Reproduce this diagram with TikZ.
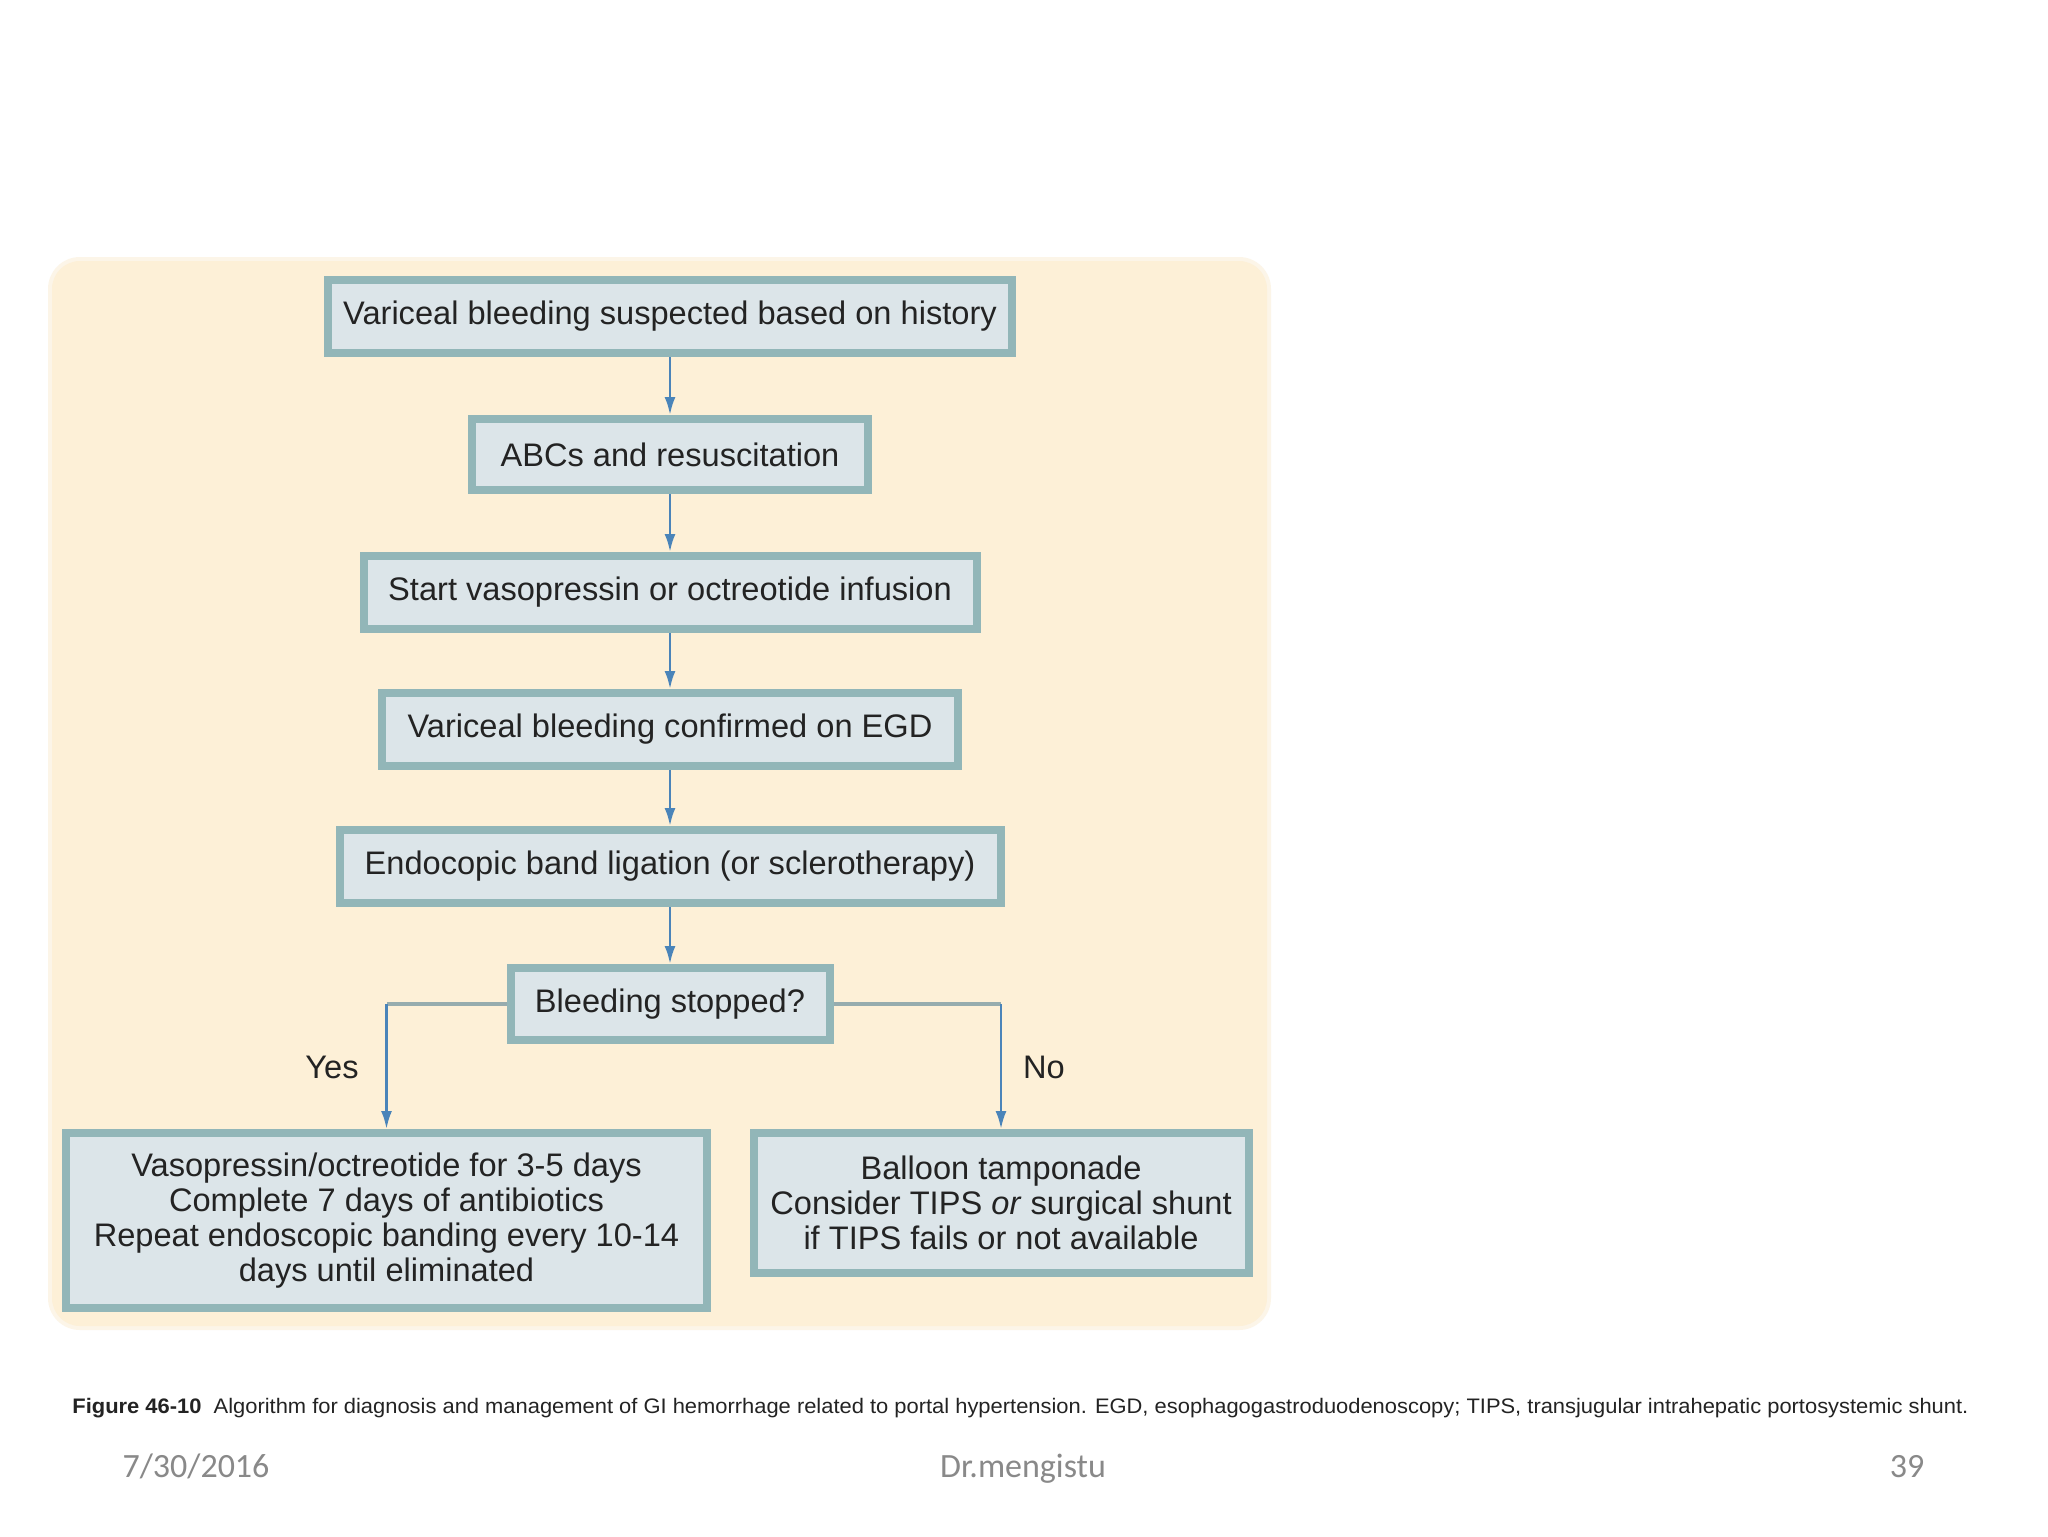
\documentclass[tikz,border=0pt]{standalone}
\usepackage{fontspec}
\usepackage{graphicx}
\setmainfont{Liberation Sans}
\newfontfamily\footfont{Carlito}
\usetikzlibrary{arrows.meta}
\definecolor{panel}{RGB}{253,240,215}
\definecolor{paneledge}{RGB}{252,245,232}
\definecolor{frame}{RGB}{146,182,184}
\definecolor{framein}{RGB}{186,208,212}
\definecolor{boxfill}{RGB}{220,229,233}
\definecolor{arr}{RGB}{74,132,185}
\definecolor{branch}{RGB}{150,172,174}
\definecolor{txt}{RGB}{35,35,35}
\definecolor{foot}{RGB}{137,137,137}
\tikzset{
  stepbox/.style={draw=frame, line width=4pt, fill=boxfill, inner sep=0pt,
    align=center, text=txt, font=\fontsize{16.3}{17.6}\selectfont,
    append after command={
      \pgfextra{\draw[framein, line width=2pt]
        ([shift={(3pt,-3pt)}]\tikzlastnode.north west) rectangle
        ([shift={(-3pt,3pt)}]\tikzlastnode.south east);}}},
  flow/.style={draw=arr, line width=1.3pt, -{Latex[length=9pt,width=5.5pt]}},
  branchline/.style={draw=branch, line width=1.6pt},
  lbl/.style={text=txt, font=\fontsize{16.3}{18}\selectfont, inner sep=0pt},
  footer/.style={text=foot, font=\footfont\fontsize{17}{19}\selectfont, inner sep=0pt, anchor=base}
}
\begin{document}
\begin{tikzpicture}[x=0.5pt,y=-0.5pt]
\useasboundingbox (0,0) rectangle (2048,1536);
\fill[white] (0,0) rectangle (2048,1536);
\fill[paneledge] [rounded corners=16pt] (48,257) rectangle (1271,1330);
\fill[panel] [rounded corners=14pt] (52,261) rectangle (1267,1326);
\node[stepbox, minimum width=342pt, minimum height=36.5pt] (b1) at (670,316.5) {Variceal bleeding suspected based on history};
\node[stepbox, minimum width=198pt, minimum height=35.5pt] (b2) at (670,454.5) {ABCs and resuscitation};
\node[stepbox, minimum width=306.5pt, minimum height=36.5pt] (b3) at (670,592.5) {Start vasopressin or octreotide infusion};
\node[stepbox, minimum width=288pt, minimum height=36.5pt] (b4) at (670,729.5) {Variceal bleeding confirmed on EGD};
\node[stepbox, minimum width=330.5pt, minimum height=36.5pt] (b5) at (670,866.5) {Endocopic band ligation (or sclerotherapy)};
\node[stepbox, minimum width=159.5pt, minimum height=36pt] (b6) at (670,1004) {Bleeding stopped?};
\node[stepbox, minimum width=320.5pt, minimum height=87.5pt] (b7) at (386.5,1220.5) {Vasopressin/octreotide for 3-5 days\\Complete 7 days of antibiotics\\Repeat endoscopic banding every 10-14\\days until eliminated};
\node[stepbox, minimum width=247.5pt, minimum height=70pt] (b8) at (1001,1203) {Balloon tamponade\\Consider TIPS \textit{or} surgical shunt\\if TIPS fails or not available};
\draw[flow] (b1) -- (b2);
\draw[flow] (b2) -- (b3);
\draw[flow] (b3) -- (b4);
\draw[flow] (b4) -- (b5);
\draw[flow] (b5) -- (b6);
\coordinate (cy) at (b7.north |- b6.west);
\coordinate (cn) at (b8.north |- b6.east);
\draw[branchline] (b6.west) -- (cy);
\draw[branchline] (b6.east) -- (cn);
\draw[flow] (cy) -- (b7.north);
\draw[flow] (cn) -- (b8.north);
\node[lbl] (yes) at (332,1067) {Yes};
\node[lbl] (no) at (1044,1067) {No};
\node[inner sep=0pt, anchor=west, text=txt] (cap) at (72,1408) {\resizebox{948pt}{\height}{\fontsize{10.5}{12}\selectfont\textbf{Figure 46-10}\ \ Algorithm for diagnosis and management of GI hemorrhage related to portal hypertension. EGD, esophagogastroduodenoscopy; TIPS, transjugular intrahepatic portosystemic shunt.}};
\node[footer] (date) at (196,1477) {7/30/2016};
\node[footer] (author) at (1023,1477) {Dr.mengistu};
\node[footer] (page) at (1907,1477) {39};
\end{tikzpicture}
\end{document}
